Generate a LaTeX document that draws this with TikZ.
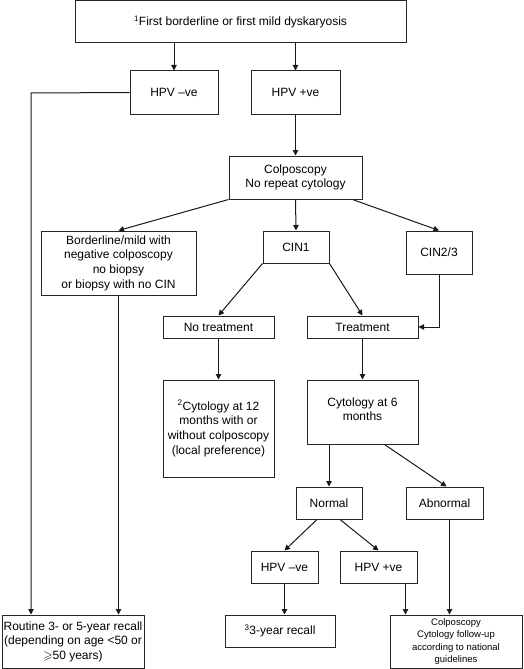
\documentclass[tikz,border=0pt]{standalone}
\usepackage{amssymb}
\usepackage{fontspec}
\setmainfont{Liberation Sans}
\usetikzlibrary{arrows.meta}
\tikzset{
  box/.style={draw=black!85, line width=1pt, align=center, inner sep=1pt,
    font=\fontsize{12}{14.6}\selectfont},
  small/.style={font=\fontsize{9.5}{12.2}\selectfont},
  link/.style={draw=black!90, line width=1pt},
  arr/.style={link, -{Triangle[length=5.5pt,width=5.5pt]}}
}
\begin{document}
\begin{tikzpicture}[x=1pt,y=-1pt]
\useasboundingbox (0,0) rectangle (524,669);
% first result
\node[box, minimum width=331, minimum height=42] (first) at (240.5,22) {\textsuperscript{1}First borderline or first mild dyskaryosis};
% HPV triage
\node[box, minimum width=88, minimum height=43] (hneg) at (174,92.5) {HPV --ve};
\node[box, minimum width=89, minimum height=43] (hpos) at (295.5,92.5) {HPV +ve};
% colposcopy row
\node[box, minimum width=133, minimum height=43] (colpo) at (295.5,177.5) {Colposcopy\\No repeat cytology};
\node[box, minimum width=155, minimum height=64] (negcol) at (118.5,263) {Borderline/mild with\\negative colposcopy\\no biopsy\\or biopsy with no CIN};
\node[box, minimum width=66, minimum height=32] (cin1) at (296,247) {CIN1};
\node[box, minimum width=66, minimum height=43] (cin23) at (439,252.5) {CIN2/3};
% treatment row
\node[box, minimum width=111, minimum height=22] (notreat) at (218.5,327) {No treatment};
\node[box, minimum width=111, minimum height=22] (treat) at (362.5,327) {Treatment};
% follow-up cytology
\node[box, minimum width=111, minimum height=97] (cyt12) at (218.5,428.5) {\textsuperscript{2}Cytology at 12\\months with or\\without colposcopy\\(local preference)};
\node[box, minimum width=111, minimum height=64, text depth=6pt] (cyt6) at (362.5,412) {Cytology at 6\\months};
\node[box, minimum width=66, minimum height=32] (normal) at (329,503) {Normal};
\node[box, minimum width=77, minimum height=32] (abnormal) at (444.5,503) {Abnormal};
% HPV test after normal cytology
\node[box, minimum width=67, minimum height=32] (hneg2) at (284.5,567) {HPV --ve};
\node[box, minimum width=77, minimum height=32] (hpos2) at (378.5,567) {HPV +ve};
% outcomes
\node[box, minimum width=142, minimum height=53] (routine) at (73,641.5) {Routine 3- or 5-year recall\\(depending on age {<}50 or\\$\geqslant$50 years)};
\node[box, minimum width=110, minimum height=32] (recall3) at (280,631) {\textsuperscript{3}3-year recall};
\node[box, small, minimum width=132, minimum height=53] (colpo2) at (456,641.5) {Colposcopy\\Cytology follow-up\\according to national\\guidelines};
\coordinate (bend) at (31,93);
% connectors
\draw[arr] (hneg.north |- first.south) -- (hneg.north);
\draw[arr] (hpos.north |- first.south) -- (hpos.north);
\draw[arr] (hneg.west) -- (bend) -- (bend |- routine.north);
\draw[arr] (hpos.south) -- (colpo.north);
\draw[arr] (colpo.south west) -- (negcol.north);
\draw[arr] (colpo.south) -- (cin1.north);
\draw[arr] ([xshift=-10pt]colpo.south east) -- (cin23.north);
\draw[arr] (negcol.south) -- (negcol.south |- routine.north);
\draw[arr] (cin1.south west) -- (notreat.north);
\draw[arr] (cin1.south east) -- (treat.north);
\draw[arr] (cin23.south) -- (cin23.south |- treat.east) -- (treat.east);
\draw[arr] (notreat.south) -- (cyt12.north);
\draw[arr] (treat.south) -- (cyt6.north);
\draw[arr] (normal.north |- cyt6.south) -- (normal.north);
\draw[arr] ([xshift=-34pt]cyt6.south east) -- ([xshift=2pt]abnormal.north);
\draw[arr] ([xshift=-12pt]normal.south) -- (hneg2.north);
\draw[arr] ([xshift=11pt]normal.south) -- (hpos2.north);
\draw[arr] (hneg2.south) -- (hneg2.south |- recall3.north);
\draw[arr] ([xshift=16pt]colpo2.north west |- hpos2.south) -- ([xshift=16pt]colpo2.north west);
\draw[arr] ([xshift=5pt]abnormal.south) -- ([xshift=5pt]abnormal.south |- colpo2.north);
\end{tikzpicture}
\end{document}
